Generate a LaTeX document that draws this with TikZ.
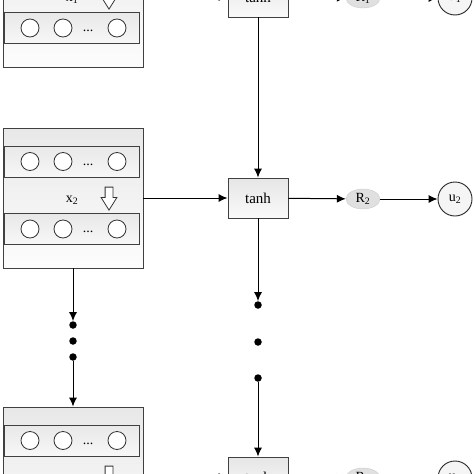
\documentclass[tikz,border=0pt]{standalone}
\usepackage{fontspec}
\setmainfont{Liberation Serif}
\usetikzlibrary{shapes, arrows.meta, positioning, calc}

\tikzstyle{block} = [rectangle, draw=black!75, top color=black!9, bottom color=black!1, minimum width=140pt, minimum height=140pt, line width=0.9pt]
\tikzstyle{rowbox} = [rectangle, draw=black!75, top color=black!9, bottom color=black!3, minimum width=135pt, minimum height=31pt, line width=0.9pt]
\tikzstyle{neuron} = [circle, draw=black!80, fill=white, minimum size=18pt, inner sep=0pt, line width=0.8pt]
\tikzstyle{act} = [rectangle, draw=black!75, top color=black!10, bottom color=black!2, minimum width=60pt, minimum height=40pt, line width=0.9pt]
\tikzstyle{res} = [ellipse, draw=black!20, fill=black!12, minimum width=34pt, minimum height=20pt, inner sep=0pt]
\tikzstyle{outnode} = [circle, draw=black!85, fill=black!4, minimum size=34pt, inner sep=0pt, line width=0.9pt]
\tikzstyle{bigdot} = [circle, fill=black, minimum size=7.5pt, inner sep=0pt]
\tikzstyle{hollowarr} = [single arrow, draw=black!80, fill=white, rotate=-90, minimum height=23pt, inner sep=3.5pt, single arrow head extend=4pt, single arrow tip angle=64, line width=0.8pt]
\tikzstyle{line} = [draw, line width=1pt, -{Latex[length=9pt,width=8pt]}]

\begin{document}
\begin{tikzpicture}[x=1pt, y=-1pt, font=\fontsize{14}{16}\selectfont]
    \useasboundingbox (0,0) rectangle (474,474);
    \clip (0,0) rectangle (474,474);

    % one row per time step
    \foreach \k/\y in {1/-3, 2/198, 3/477} {
        \node [block] (block\k) at (73,\y) {};
        \node [rowbox] (rowa\k) at (72,\y-36.5) {};
        \node [rowbox] (rowb\k) at (72,\y+31) {};
        \foreach \r/\dy in {a/-36.5, b/31} {
            \foreach \i/\cx in {1/30, 2/63, 3/117}
                \node [neuron] (n\i\r\k) at (\cx,\y+\dy) {};
            \node (etc\r\k) at (88,\y+\dy+3) {...};
        }
        \node (xlab\k) at (72,\y+2) {x\textsubscript{\k}};
        \node [hollowarr] (arr\k) at (109,\y-2.5) {};

        \node [act] (tanh\k) at (258,\y) {\fontsize{15}{17}\selectfont tanh};
        \node [res] (R\k) at (363,\y+1) {R\textsubscript{\k}};
        \node [outnode] (u\k) at (455,\y+1) {u\textsubscript{\k}};

        \path [line] (block\k) -- (tanh\k);
        \path [line] (tanh\k) -- (R\k);
        \path [line] (R\k) -- (u\k);
    }

    % dots between the steps
    \node [bigdot] (ldot1) at (73,325) {};
    \node [bigdot] (ldot2) at (73,341) {};
    \node [bigdot] (ldot3) at (73,357) {};
    \node [bigdot] (rdot1) at (258,305) {};
    \node [bigdot] (rdot2) at (258,342) {};
    \node [bigdot] (rdot3) at (258,378) {};

    \path [line] (block2) -- (ldot1);
    \path [line] (ldot3) -- (block3);
    \path [line] (tanh1) -- (tanh2);
    \path [line] (tanh2) -- (rdot1);
    \path [line] (rdot3) -- (tanh3);
\end{tikzpicture}
\end{document}
